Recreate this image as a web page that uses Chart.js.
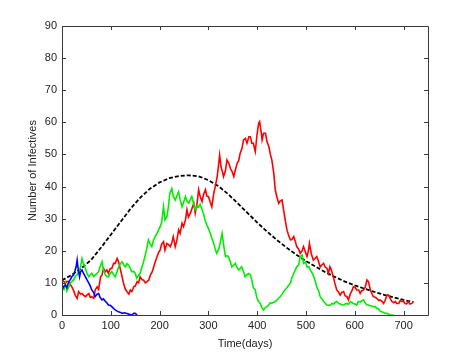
<!DOCTYPE html>
<html>
<head>
<meta charset="utf-8">
<script src="https://cdn.jsdelivr.net/npm/chart.js@4"></script>
<style>
html,body{margin:0;padding:0;background:#fff;}
#wrap{width:474px;height:355px;}
</style>
</head>
<body>
<div id="wrap"><canvas id="c" width="474" height="355"></canvas></div>
<script>
const xTicks = [0,100,200,300,400,500,600,700];
const yTicks = [0,10,20,30,40,50,60,70,80,90];

const meanDays = [0,20,40,60,80,100,120,140,160,180,200,220,240,260,280,300,320,340,360,380,400,420,440,460,480,500,520,540,560,580,600,620,640,660,680,700,720];
const meanValues = [10.8,12.5,14.6,17.2,21,25,29,33,36.5,39.3,41.3,42.6,43.3,43.5,43.2,42,40.2,37.7,34.8,31.8,28.8,26,23.4,21,18.8,16.8,15,13.3,11.8,10.4,9.2,8.2,7.2,6.3,5.5,4.7,4.0];

const blueDays = [0,4,7,10,14,17,20,24,27,29,31,33,36,38,41,44,48,51,55,58,61,65,68,72,75,78,82,85,89,92,95,99,102,106,109,113,116,120,123,128,133,138,143,147,150,154];
const blueValues = [7.8,9,9.3,8.5,10.4,11,11.9,12.5,14,15,17.1,14.5,11.9,13.5,14,13,11.9,11,9.9,9,7.8,7,5.7,6.5,6.7,5.5,4.7,5,4.2,3.8,3.1,3,2.6,2,1.6,1.2,1,0.8,0.5,0.7,0.5,0.2,0,0.5,0.5,0];

const greenDays = [0,4,7,10,14,17,20,24,27,31,34,38,41,44,48,51,55,58,61,65,68,72,75,78,82,85,89,92,95,99,102,106,109,113,116,120,123,127,130,133,136,140,143,147,150,153,157,160,163,167,170,174,177,181,184,188,191,195,198,201,204,208,211,215,218,221,225,228,232,235,239,242,246,249,253,256,260,263,266,270,273,277,280,283,287,290,293,297,300,304,307,311,314,317,321,324,328,331,335,338,341,345,348,352,355,358,362,365,368,372,375,379,382,386,389,392,396,399,403,406,410,413,417,420,424,427,430,434,437,441,444,447,451,454,457,461,464,468,471,475,478,481,485,488,492,495,499,502,506,509,513,516,519,522,526,529,533,536,540,543,547,550,553,557,560,563,567,570,574,577,580,584,587,591,594,597,600,604,607,611,614,618,621,625,628,632,635,638,642,645,648,652,655,659,662,666,669,672,676,680];
const greenValues = [9,8,9.9,7.5,8.8,10,10.4,11,11.9,12.5,13.5,15,17.6,16,14.5,13,11.9,12.5,13,12,12.4,13,13.5,15,16.6,14,12.4,12,11.9,13,13.5,12.5,11.9,13.5,15,16,16.6,15.5,15,16,15.6,14.5,13.5,13.5,13,11.5,12.4,13,14.5,16.5,18.2,21,23.4,22,21.3,23.5,24.4,25.5,26.5,27.5,28.6,33.7,29.6,30.6,33.7,37.9,39.4,37,35.8,37,38.4,36,33.7,35,36.9,35.5,34.8,36,36.9,34.5,32.8,34,33.7,34.5,32.8,31.5,29.6,28,27,25.4,24,22.3,20.5,19.2,20.5,22.3,25.4,22,18.2,18.5,18.2,16.5,15,15.5,16.1,15,14,14.5,15,13.5,11.9,12.5,12.9,12.5,10.9,8.5,7.8,5.5,4.2,3.6,2.2,1.6,2.4,2.6,3.2,3.8,3.6,4,4.2,4.8,5.2,5.7,6.5,7.2,7.8,8.5,9.2,9.9,11.5,13,14,15,15.6,18.2,18.7,16.1,16.5,15,15,14,13,11.9,10.5,8.8,7.5,5.7,5,4.2,3.6,3.1,3,3.1,3.6,3.4,4,4.2,3.6,3.4,3.1,3.1,3.4,3.6,3.3,4.2,3.9,3.6,3.4,3.1,4.2,4,4.4,4.7,3.8,3.1,3.1,2.8,2.8,2.6,2.6,2,2,1.2,1,0.8,0.5,0.5,0.3,0,0,0];

const redDays = [0,4,7,10,14,17,20,24,27,31,34,38,41,44,48,51,55,58,61,65,68,72,75,79,82,85,89,92,95,99,102,106,109,113,116,120,123,126,130,133,137,140,143,147,150,154,157,160,164,167,171,174,178,181,185,188,191,195,198,201,204,208,211,215,218,222,225,228,232,235,239,242,246,249,253,256,259,263,266,270,273,277,280,283,287,290,294,297,300,304,307,311,314,318,321,323,326,329,331,335,338,342,345,349,352,355,359,362,365,369,372,376,379,383,386,389,392,396,400,403,405,408,410,413,417,420,424,427,430,434,437,440,444,447,451,454,458,461,464,468,471,475,478,481,485,488,492,495,499,502,505,507,511,515,518,522,525,529,532,536,539,543,546,549,552,556,559,563,566,570,573,577,580,584,587,591,594,597,601,604,608,611,614,618,621,625,628,632,635,638,642,645,649,652,656,659,662,666,669,673,676,680,683,686,690,693,696,700,703,706,710,713,717,720];
const redValues = [10.9,10.4,9.9,10.5,10.4,9.5,8.8,7.5,6.2,5.2,7.3,6.5,6.7,6.2,5.7,6.2,6.7,5.5,5.7,5.2,7.8,8.8,8,11.9,12.5,14.5,13.5,14,13,14.5,14.5,16.1,16,17.6,16.5,14,12,9.9,8,7.3,6.5,7.8,7.3,8.8,9,10.4,10,11.9,11,10.9,10,10.4,10.9,12.4,13.5,15,16.5,18.2,19.5,20.2,22,22.8,20.2,22.3,22,21.3,22.5,24.4,21.3,23,26.5,25.4,28.6,27.5,29.6,32.8,30.5,31.7,33,34.8,31.7,35,39,37,35.3,37.5,39,37,36.9,35,33.7,37.9,40,43.1,47,49.8,46,44.5,43.1,45,48.3,47.2,45.7,44.5,43.1,45,47.3,48,50.3,52,54.5,55,53.5,55.5,55.5,53.5,53.5,50.9,56.6,59.7,60.2,57,54.5,56.6,56.6,54,52.4,50,48.3,44.1,39,37,34.8,35.5,35.8,32.8,29,26.5,25,23.4,23.5,24.4,23,21.3,20.5,19.2,20,21.3,19.5,18.2,20,22.3,19,17.1,17.5,18.2,17,15,15.5,16.1,15,14.5,13,15,14,11.9,10,7.8,7.3,6.2,7,7.3,6,5.7,4.7,6.7,7.5,8.8,8.5,7.8,7.8,6.7,7.5,7.8,8.5,10.9,10.4,7.8,6.7,5.7,5.5,5.2,4.5,4.7,4.2,3.6,4.5,6.2,6.2,5,4.2,3.8,4.2,3.6,3.6,4.5,4.2,4.2,3.6,3.5,4.2,3.4,3.6,4.2];

function pts(xs, ys){ return xs.map((x,i)=>({x:x, y:ys[i]})); }

const FONT = '"Liberation Sans", Arial, sans-serif';
const TXT = '#222';
const AXC = '#3a3a3a';

const boxPlugin = {
  id:'box',
  afterDraw(chart){
    const ctx = chart.ctx, a = chart.chartArea;
    const xs = chart.scales.x, ys = chart.scales.y;
    ctx.save();
    ctx.strokeStyle = AXC;
    ctx.lineWidth = 1;
    ctx.beginPath();
    ctx.rect(Math.round(a.left)+0.5, Math.round(a.top)+0.5, Math.round(a.right-a.left), Math.round(a.bottom-a.top));
    ctx.stroke();
    const L = 4;
    ctx.beginPath();
    xTicks.forEach(v=>{
      const px = Math.round(xs.getPixelForValue(v))+0.5;
      ctx.moveTo(px, a.bottom); ctx.lineTo(px, a.bottom-L);
      ctx.moveTo(px, a.top); ctx.lineTo(px, a.top+L);
    });
    yTicks.forEach(v=>{
      const py = Math.round(ys.getPixelForValue(v))+0.5;
      ctx.moveTo(a.left, py); ctx.lineTo(a.left+L, py);
      ctx.moveTo(a.right, py); ctx.lineTo(a.right-L, py);
    });
    ctx.stroke();
    ctx.restore();
  }
};

const common = {pointRadius:0, borderWidth:1.6, tension:0, fill:false};

new Chart(document.getElementById('c'), {
  type:'line',
  data:{
    datasets:[
      Object.assign({label:'blue', data:pts(blueDays, blueValues), borderColor:'#0000ff'}, common),
      Object.assign({label:'green', data:pts(greenDays, greenValues), borderColor:'#00ee00'}, common),
      Object.assign({label:'red', data:pts(redDays, redValues), borderColor:'#ff0000'}, common),
      Object.assign({label:'mean', data:pts(meanDays, meanValues), borderColor:'#000000', borderDash:[4,2]}, common, {borderWidth:1.8})
    ]
  },
  options:{
    responsive:false,
    animation:false,
    layout:{padding:{left:22, right:46, top:26, bottom:4}},
    plugins:{legend:{display:false}, tooltip:{enabled:false}},
    scales:{
      x:{
        type:'linear', min:0, max:750,
        grid:{display:false, drawTicks:false},
        border:{display:false},
        afterBuildTicks(s){ s.ticks = xTicks.map(v=>({value:v})); },
        afterFit(s){ s.height = 36; },
        ticks:{padding:4, color:TXT, font:{family:FONT, size:11}, maxRotation:0, autoSkip:false},
        title:{display:true, text:'Time(days)', color:TXT, font:{family:FONT, size:11}, padding:{top:0,bottom:0}}
      },
      y:{
        type:'linear', min:0, max:90,
        grid:{display:false, drawTicks:false},
        border:{display:false},
        afterBuildTicks(s){ s.ticks = yTicks.map(v=>({value:v})); },
        afterFit(s){ s.width = 40; },
        ticks:{padding:5, color:TXT, font:{family:FONT, size:11}, autoSkip:false},
        title:{display:true, text:'Number of Infectives', color:TXT, font:{family:FONT, size:11}, padding:{top:4,bottom:0}}
      }
    }
  },
  plugins:[boxPlugin]
});
</script>
</body>
</html>
